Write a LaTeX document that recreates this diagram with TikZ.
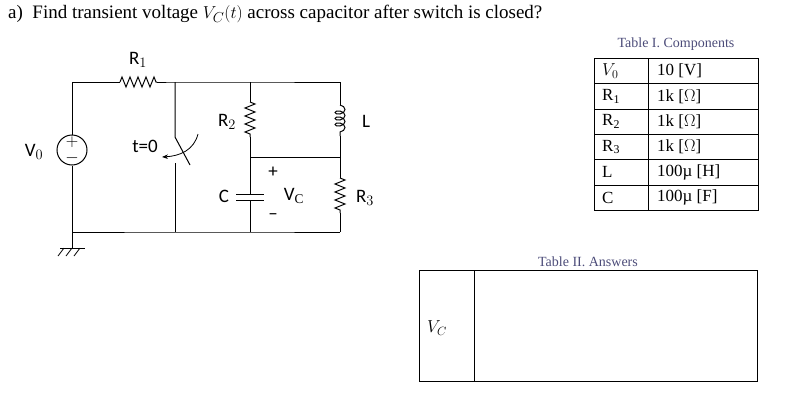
\documentclass[tikz,border=0pt]{standalone}
\usepackage{fontspec}
\setmainfont{Liberation Serif}
\newfontfamily\calib{Carlito}
\usetikzlibrary{arrows.meta,decorations.pathmorphing}
\tikzset{
  wire/.style={line width=1pt},
  lbl/.style={font=\calib\fontsize{19}{19}\selectfont,inner sep=0pt},
  cell/.style={draw,line width=0.8pt,minimum height=25.3pt,inner sep=0pt,anchor=north west},
  ctxt/.style={font=\fontsize{17}{17}\selectfont,inner sep=0pt,anchor=west},
  tcap/.style={font=\fontsize{14}{14}\selectfont,text=black!75!blue!70,inner sep=0pt},
  zig/.style={decorate,decoration={zigzag,segment length=8pt,amplitude=5pt}},
}
\begin{document}
\begin{tikzpicture}[x=1pt,y=-1pt]
\useasboundingbox (0,0) rectangle (796,407);
\node[anchor=west,font=\fontsize{19}{19}\selectfont,inner sep=0pt] (title) at (8,14)
  {a)\ \ Find transient voltage $V_C(t)$ across capacitor after switch is closed?};
% junctions
\coordinate (tl) at (72,82);
\coordinate (r1a) at (120,82);
\coordinate (r1b) at (157,82);
\coordinate (ts) at (175,82);
\coordinate (t2) at (250,82);
\coordinate (tr) at (340,82);
\coordinate (m2) at (250,157);
\coordinate (mr) at (340,157);
\coordinate (bl) at (72,232);
\coordinate (bs) at (175,232);
\coordinate (b2) at (250,232);
\coordinate (br) at (340,232);
\coordinate (gnd) at (72,248);
% source
\node[draw,circle,line width=1pt,minimum size=30pt,inner sep=0pt] (vs) at (72,150) {};
\node[inner sep=0pt,font=\LARGE] at (72,142) {$+$};
\node[inner sep=0pt,font=\LARGE] at (72,158) {$-$};
\node[lbl] (v0) at (34,152) {V$_0$};
\draw[wire] (vs.north) -- (tl) -- (r1a);
\draw[wire,zig] (r1a) -- (r1b);
\draw[wire] (r1b) -- (ts) -- (t2) -- (tr);
\draw[wire] (vs.south) -- (bl) -- (bs) -- (b2) -- (br);
\node[lbl] (r1) at (138,60) {R$_1$};
% switch
\coordinate (sw1) at (175,137);
\coordinate (sw2) at (190,165);
\coordinate (sw3) at (175,163);
\draw[wire] (ts) -- (sw1) -- (sw2);
\draw[wire] (sw3) -- (bs);
\draw[line width=0.8pt,-{Stealth[length=6pt]}] (198,134) .. controls (194,150) and (180,156) .. (162,157);
\node[lbl] (t0) at (145,146) {t=0};
% R2 and capacitor
\coordinate (r2a) at (250,102);
\coordinate (r2b) at (250,137);
\draw[wire] (t2) -- (r2a);
\draw[wire,zig] (r2a) -- (r2b);
\draw[wire] (r2b) -- (m2) -- (mr);
\node[lbl] (r2) at (227,122) {R$_2$};
\coordinate (ca) at (250,194);
\coordinate (cb) at (250,200);
\draw[wire] (m2) -- (ca);
\draw[wire] (cb) -- (b2);
\draw[wire] (236,194) -- (264,194);
\draw[wire] (236,200) -- (264,200);
\node[lbl] (cl) at (224,196) {C};
\node[lbl] (plus) at (273,172) {+};
\node[lbl] (vc) at (294,196) {V$_\mathrm{C}$};
\node[lbl] (minus) at (273,217) {\textendash};
% L and R3
\coordinate (la) at (340,105);
\coordinate (lb) at (340,136);
\draw[wire] (tr) -- (la);
\draw[wire,decorate,decoration={coil,aspect=0.6,segment length=6pt,amplitude=5pt}] (la) -- (lb);
\draw[wire] (lb) -- (mr);
\node[lbl] (ll) at (366,121) {L};
\coordinate (r3a) at (340,178);
\coordinate (r3b) at (340,213);
\draw[wire] (mr) -- (r3a);
\draw[wire,zig] (r3a) -- (r3b);
\draw[wire] (r3b) -- (br);
\node[lbl] (r3) at (365,198) {R$_3$};
% ground
\draw[wire] (bl) -- (gnd);
\draw[wire] (60,248) -- (85,248);
\foreach \x in {64,72,80} \draw[line width=0.8pt] (\x,248) -- (\x-6,256);
% table I
\node[tcap] (capI) at (676,44) {Table I. Components};
\foreach \a/\b [count=\i from 0] in {$V_0$/10 [V],R\textsubscript{1}/1k [$\Omega$],R\textsubscript{2}/1k [$\Omega$],R\textsubscript{3}/1k [$\Omega$],L/100\textmu{} [H],C/100\textmu{} [F]}{
  \node[cell,minimum width=54pt] (a\i) at (594,58+25.3*\i) {};
  \node[cell,minimum width=110pt] (b\i) at (648,58+25.3*\i) {};
  \node[ctxt] at ([xshift=8pt]a\i.west) {\a};
  \node[ctxt] at ([xshift=9pt]b\i.west) {\b};
}
% table II
\node[tcap] (capII) at (588,262) {Table II. Answers};
\node[cell,minimum width=55pt,minimum height=111pt] (ans1) at (419,270) {};
\node[cell,minimum width=283pt,minimum height=111pt] (ans2) at (474,270) {};
\node[ctxt,font=\fontsize{18}{18}\selectfont] (vcans) at (427,328) {$V_C$};
\end{tikzpicture}
\end{document}
